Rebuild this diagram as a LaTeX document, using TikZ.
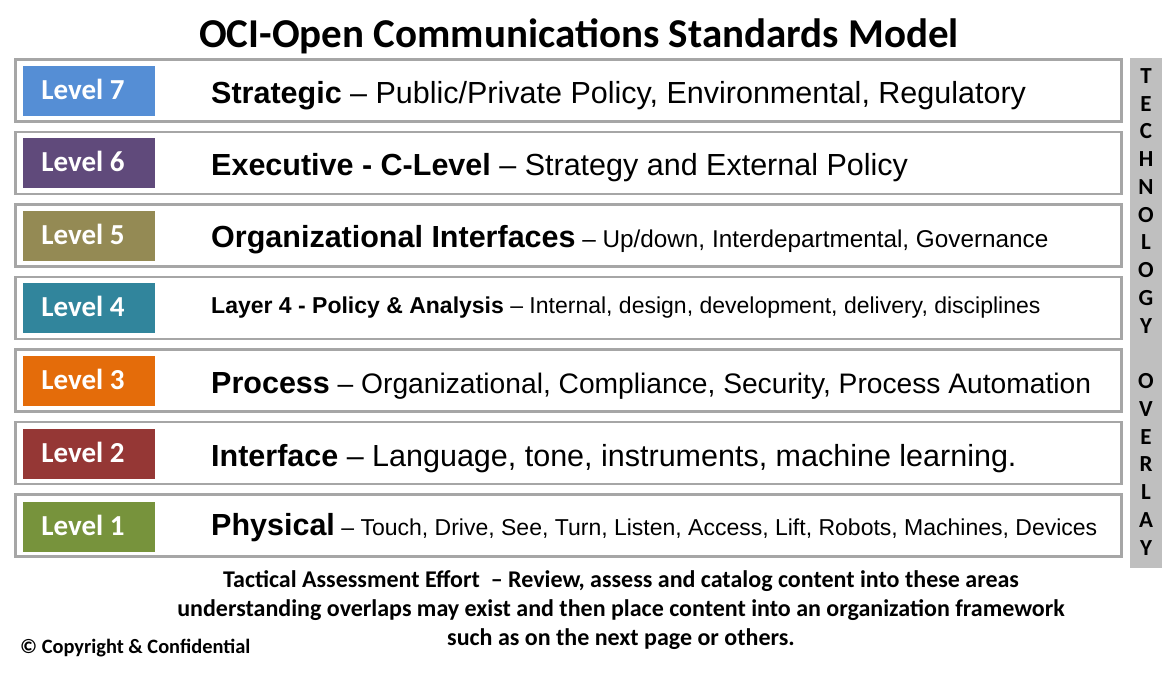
\documentclass[tikz,border=0pt]{standalone}
\usepackage{fontspec}
\setmainfont{Liberation Sans}
\newfontfamily\calfont{Carlito}
\definecolor{rowgray}{HTML}{A6A6A6}
\definecolor{bargray}{HTML}{BFBFBF}
\definecolor{lseven}{HTML}{558ED5}
\definecolor{lsix}{HTML}{604A7B}
\definecolor{lfive}{HTML}{948A54}
\definecolor{lfour}{HTML}{31859C}
\definecolor{lthree}{HTML}{E46C0A}
\definecolor{ltwo}{HTML}{953735}
\definecolor{lone}{HTML}{77933C}
\begin{document}
\begin{tikzpicture}[x=1pt,y=-1pt,
  rowbox/.style={draw=rowgray, line width=2.5pt, minimum width=1106pt, minimum height=62pt, inner sep=0pt, anchor=north west},
  lvl/.style={fill=#1, text=white, minimum width=132pt, minimum height=50pt, inner sep=0pt, anchor=north west},
  lvltext/.style={text=white, font=\calfont\bfseries\fontsize{29}{32}\selectfont, inner sep=0pt},
  desc/.style={anchor=west, inner sep=0pt},
  big/.style={font=\fontsize{30.5}{34}\selectfont},
  tech/.style={font=\calfont\bfseries\fontsize{23}{25}\selectfont, inner sep=0pt}]
\useasboundingbox (0,0) rectangle (1174,678);
\node[font=\calfont\bfseries\fontsize{41}{44}\selectfont, inner sep=0pt] (title) at (579,36) {OCI-Open Communications Standards Model};
\node[fill=bargray, minimum width=32pt, minimum height=510pt, inner sep=0pt, anchor=north west] (bar) at (1130,58) {};
% rows
\node[rowbox] (r7) at (14,58) {};
\node[rowbox] (r6) at (14,130.5) {};
\node[rowbox] (r5) at (14,203) {};
\node[rowbox] (r4) at (14,275.5) {};
\node[rowbox] (r3) at (14,348) {};
\node[rowbox] (r2) at (14,420.5) {};
\node[rowbox] (r1) at (14,493) {};
% level boxes
\node[lvl=lseven] (l7) at (23,66) {};
\node[lvl=lsix] (l6) at (23,138) {};
\node[lvl=lfive] (l5) at (23,211) {};
\node[lvl=lfour] (l4) at (23,283) {};
\node[lvl=lthree] (l3) at (23,356) {};
\node[lvl=ltwo] (l2) at (23,429) {};
\node[lvl=lone] (l1) at (23,502) {};
\node[lvltext] (t7) at (83,89) {Level 7};
\node[lvltext] (t6) at (83,161) {Level 6};
\node[lvltext] (t5) at (83,234) {Level 5};
\node[lvltext] (t4) at (83,306) {Level 4};
\node[lvltext] (t3) at (83,379) {Level 3};
\node[lvltext] (t2) at (83,452) {Level 2};
\node[lvltext] (t1) at (83,525) {Level 1};
% descriptions
\node[desc, big] (d7) at (211,96) {\textbf{Strategic} – Public/Private Policy, Environmental, Regulatory};
\node[desc, big] (d6) at (211,168) {\textbf{Executive - C-Level} – Strategy and External Policy};
\node[desc] (d5) at (211,240) {{\fontsize{30.5}{34}\selectfont\textbf{Organizational Interfaces}}{\fontsize{24.3}{28}\selectfont\ – Up/down, Interdepartmental, Governance}};
\node[desc, font=\fontsize{23}{26}\selectfont] (d4) at (211,308) {\textbf{Layer 4 - Policy \& Analysis} – Internal, design, development, delivery, disciplines};
\node[desc] (d3) at (211,386) {{\fontsize{30.5}{34}\selectfont\textbf{Process}}{\fontsize{28.2}{32}\selectfont\ – Organizational, Compliance, Security, Process Automation}};
\node[desc, big] (d2) at (211,459) {\textbf{Interface} – Language, tone, instruments, machine learning.};
\node[desc] (d1) at (211,528) {{\fontsize{30.5}{34}\selectfont\textbf{Physical}}{\fontsize{23}{26}\selectfont\ – Touch, Drive, See, Turn, Listen, Access, Lift, Robots, Machines, Devices}};
% technology overlay
\foreach \l [count=\i] in {T,E,C,H,N,O,L,O,G,Y,{},O,V,E,R,L,A,Y}
  \node[tech] (tech\i) at (1146,{76+(\i-1)*27.75}) {\l};
% bottom
\node[font=\calfont\bfseries\fontsize{24}{29}\selectfont, align=center, inner sep=0pt] (note) at (621,610) {Tactical Assessment Effort\ \ – Review, assess and catalog content into these areas\\understanding overlaps may exist and then place content into an organization framework\\such as on the next page or others.};
\node[font=\calfont\bfseries\fontsize{20.4}{22}\selectfont, anchor=west, inner sep=0pt] (copy) at (20,648) {© Copyright \& Confidential};
\end{tikzpicture}
\end{document}
